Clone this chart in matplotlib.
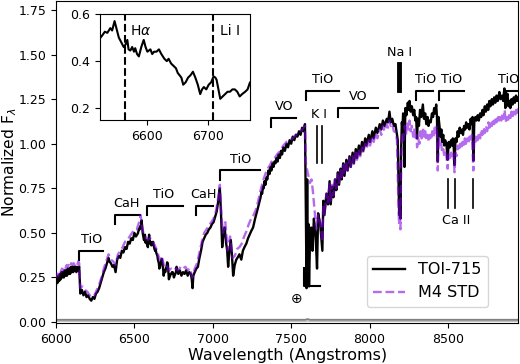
import matplotlib
matplotlib.use("Agg")
import matplotlib.pyplot as plt

# ---------------- data ----------------
toi_wave = [
    6000, 6005, 6010, 6015, 6020, 6025, 6030, 6035, 6040, 6045, 6050, 6055, 6060, 6065, 6070, 6075,
    6080, 6085, 6090, 6095, 6100, 6105, 6110, 6115, 6120, 6125, 6130, 6135, 6140, 6148,
    6155, 6165, 6175, 6185, 6195, 6205, 6215, 6225, 6235, 6245, 6255, 6265, 6275, 6285, 6295, 6305,
    6315, 6325, 6335, 6340, 6350, 6360, 6370, 6380, 6390, 6400, 6410, 6420, 6430, 6440, 6450, 6460,
    6470, 6480, 6490, 6500, 6510,
    6522, 6526, 6530, 6534, 6539, 6542, 6546, 6549, 6553, 6557, 6561, 6564, 6567, 6569, 6572, 6575,
    6578, 6580, 6583, 6586, 6590, 6594, 6597, 6600, 6605, 6608, 6611, 6615, 6619, 6623, 6628, 6632,
    6635, 6639, 6643, 6647, 6650, 6653, 6656, 6659, 6663, 6667, 6671, 6675, 6679, 6683, 6687, 6690,
    6693, 6697, 6701, 6705, 6709, 6712, 6714, 6717, 6720, 6724, 6728, 6732, 6736, 6740, 6744, 6748,
    6752, 6756, 6761, 6765, 6769,
    6780, 6790, 6800, 6810, 6820, 6830, 6840, 6850, 6860, 6866, 6871, 6876, 6885, 6895, 6905, 6915,
    6925, 6935, 6945, 6955, 6965, 6975, 6985, 6995, 7005, 7015, 7025, 7035, 7045, 7052, 7060, 7068,
    7076, 7084, 7092, 7098, 7106, 7115, 7122, 7130, 7140, 7150, 7161, 7170, 7182, 7192, 7202, 7214,
    7225, 7235, 7245, 7257, 7270, 7285, 7299,
    7305, 7310, 7315, 7320, 7325, 7330, 7336, 7342, 7348, 7355, 7362, 7368, 7374, 7380, 7387, 7393,
    7400, 7406, 7413, 7420, 7428, 7435, 7442, 7450, 7460, 7470, 7480, 7490, 7500, 7510, 7520, 7530,
    7540, 7550, 7560, 7570, 7580, 7588,
    7594, 7598, 7602, 7606, 7610, 7614, 7620, 7628, 7636, 7645, 7655, 7665, 7672, 7685, 7699,
    7705, 7712, 7725, 7735, 7745, 7752, 7762, 7770, 7780, 7788, 7798, 7805, 7815, 7822, 7832, 7840,
    7852, 7860, 7872, 7880, 7892, 7900, 7912, 7920, 7932, 7940, 7952, 7960, 7972, 7980, 7995, 8003,
    8018, 8026, 8040, 8050, 8065, 8075, 8085, 8095, 8110, 8118, 8127, 8135, 8145, 8155, 8165, 8175,
    8180,
    8185, 8189, 8193, 8197,
    8201, 8206, 8210, 8214, 8218, 8223, 8228, 8235, 8244, 8250, 8255, 8262, 8270, 8278, 8285, 8292,
    8297, 8303, 8308, 8315, 8322, 8330, 8340, 8347, 8355, 8362, 8370, 8376, 8382, 8390, 8398, 8405,
    8412, 8418, 8425, 8430, 8435, 8440, 8446, 8452, 8458, 8463, 8470, 8476, 8482, 8490, 8498, 8505,
    8512, 8520, 8526, 8531, 8537, 8542, 8548, 8555, 8562, 8568, 8575, 8582, 8590, 8596, 8603, 8610,
    8616, 8623, 8630, 8637, 8645, 8651, 8657, 8662, 8668, 8675, 8682, 8690, 8697, 8705, 8712, 8720,
    8727, 8735, 8742, 8750, 8757, 8764, 8771, 8780, 8787, 8795, 8802, 8810, 8818, 8828, 8835, 8845,
    8852, 8860, 8866, 8872, 8880, 8886, 8892, 8898, 8905, 8912, 8920, 8927, 8934, 8942, 8950]
toi_flux = [
    0.21, 0.24, 0.22, 0.26, 0.23, 0.27, 0.24, 0.28, 0.25, 0.28, 0.25, 0.29, 0.26, 0.29, 0.26, 0.30,
    0.27, 0.30, 0.27, 0.31, 0.28, 0.31, 0.28, 0.31, 0.29, 0.31, 0.28, 0.31, 0.29, 0.31,
    0.16, 0.18, 0.15, 0.17, 0.14, 0.15, 0.13, 0.12, 0.14, 0.13, 0.16, 0.17, 0.19, 0.22, 0.25, 0.28,
    0.30, 0.33, 0.36, 0.34, 0.33, 0.31, 0.32, 0.28, 0.35, 0.37, 0.36, 0.40, 0.39, 0.42, 0.41, 0.45,
    0.44, 0.47, 0.46, 0.50, 0.48,
    0.497, 0.51, 0.525, 0.52, 0.54, 0.53, 0.57, 0.54, 0.50, 0.48, 0.46, 0.47, 0.49, 0.45, 0.445, 0.46,
    0.44, 0.455, 0.43, 0.42, 0.46, 0.49, 0.46, 0.44, 0.45, 0.43, 0.44, 0.44, 0.45, 0.43, 0.41, 0.40,
    0.41, 0.39, 0.38, 0.37, 0.35, 0.34, 0.33, 0.30, 0.31, 0.33, 0.34, 0.355, 0.33, 0.30, 0.26, 0.28,
    0.29, 0.28, 0.30, 0.31, 0.335, 0.33, 0.32, 0.28, 0.24, 0.25, 0.26, 0.27, 0.27, 0.28, 0.28, 0.27,
    0.25, 0.26, 0.27, 0.28, 0.31,
    0.27, 0.29, 0.26, 0.28, 0.27, 0.29, 0.26, 0.28, 0.27, 0.24, 0.19, 0.26, 0.28, 0.30, 0.31, 0.36,
    0.40, 0.45, 0.47, 0.49, 0.50, 0.52, 0.53, 0.55, 0.56, 0.59, 0.62, 0.68, 0.75, 0.62, 0.42, 0.50,
    0.53, 0.45, 0.40, 0.31, 0.40, 0.46, 0.38, 0.26, 0.32, 0.35, 0.365, 0.38, 0.35, 0.40, 0.42, 0.44,
    0.47, 0.49, 0.51, 0.53, 0.58, 0.63, 0.68,
    0.70, 0.73, 0.72, 0.76, 0.75, 0.79, 0.77, 0.81, 0.80, 0.85, 0.83, 0.87, 0.85, 0.89, 0.87, 0.90,
    0.89, 0.92, 0.90, 0.94, 0.92, 0.96, 0.94, 0.98, 0.96, 1.00, 0.98, 1.02, 1.00, 1.04, 1.02, 1.05,
    1.04, 1.07, 1.05, 1.09, 1.07, 1.11,
    0.60, 0.19, 0.80, 0.25, 0.55, 0.20, 0.46, 0.53, 0.40, 0.58, 0.50, 0.30, 0.61, 0.55, 0.40,
    0.68, 0.60, 0.72, 0.66, 0.79, 0.66, 0.76, 0.70, 0.80, 0.74, 0.84, 0.77, 0.86, 0.80, 0.89, 0.82,
    0.91, 0.85, 0.93, 0.87, 0.95, 0.89, 0.97, 0.92, 0.99, 0.94, 1.01, 0.96, 1.03, 0.99, 1.05, 1.01,
    1.07, 1.03, 1.09, 1.06, 1.11, 1.08, 1.13, 1.10, 1.14, 1.12, 1.18, 1.12, 1.14, 1.10, 1.11, 1.05,
    1.02,
    0.80, 0.60, 0.75, 0.58,
    0.95, 1.12, 1.08, 1.17, 1.14, 0.87, 1.20, 1.16, 1.23, 1.19, 1.24, 1.18, 1.21, 1.16, 1.19, 1.13,
    1.15, 1.03, 1.14, 1.10, 1.19, 1.15, 1.22, 1.14, 1.17, 1.11, 1.15, 1.10, 1.13, 1.12, 1.17, 1.15,
    1.20, 1.17, 1.22, 1.15, 0.90, 1.15, 1.10, 1.04, 1.08, 1.01, 1.05, 0.99, 1.02, 1.00, 0.91, 1.01,
    0.98, 1.02, 0.99, 1.03, 0.98, 0.88, 1.03, 1.01, 1.07, 1.04, 1.09, 1.06, 1.08, 1.05, 1.10, 1.08,
    1.12, 1.09, 1.11, 1.08, 1.14, 1.11, 1.15, 0.905, 1.12, 1.15, 1.13, 1.16, 1.13, 1.17, 1.15, 1.19,
    1.16, 1.21, 1.18, 1.22, 1.19, 1.24, 1.21, 1.25, 1.22, 1.26, 1.23, 1.27, 1.24, 1.29, 1.25, 1.27,
    1.24, 1.31, 1.20, 1.26, 1.28, 1.21, 1.24, 1.20, 1.25, 1.22, 1.26, 1.23, 1.27, 1.24, 1.26]

std_wave = [
    6000, 6008, 6015, 6022, 6030, 6038, 6045, 6052, 6060, 6068, 6075, 6082, 6090, 6098, 6105, 6112,
    6120, 6128, 6135, 6142, 6148,
    6155, 6170, 6185, 6200, 6215, 6230, 6245, 6260, 6275, 6290, 6305, 6320, 6335, 6350, 6365, 6380,
    6395, 6410, 6425, 6440, 6455, 6470, 6485, 6500, 6515, 6530, 6540, 6550, 6560, 6570, 6585, 6600,
    6615, 6630, 6645, 6660, 6675, 6690, 6705, 6720, 6735, 6750, 6765, 6780, 6795, 6810, 6825, 6840,
    6855, 6870, 6885, 6900, 6915, 6930, 6945, 6960, 6975, 6990, 7005, 7020, 7035, 7045, 7055, 7065,
    7080, 7095, 7110, 7125, 7140, 7155, 7170, 7185, 7200, 7215, 7230, 7245, 7260, 7275, 7290, 7305,
    7320, 7335, 7350, 7365, 7380, 7395, 7410, 7430, 7450, 7470, 7490, 7510, 7530, 7550, 7570, 7588,
    7593, 7600, 7610, 7620, 7630, 7640, 7650, 7660, 7672, 7685, 7699,
    7705, 7712, 7725, 7735, 7745, 7752, 7762, 7770, 7780, 7788, 7798, 7805, 7815, 7822, 7832, 7840,
    7852, 7860, 7872, 7880, 7892, 7900, 7912, 7920, 7932, 7940, 7952, 7960, 7972, 7980, 7995, 8003,
    8018, 8026, 8040, 8050, 8065, 8075, 8085, 8095, 8110, 8118, 8127, 8135, 8145, 8155, 8165, 8175,
    8183, 8188, 8193, 8197,
    8202, 8208, 8215, 8225, 8232, 8240, 8248, 8255, 8262, 8270, 8278, 8285, 8292, 8300, 8303, 8310,
    8318, 8325, 8332, 8340, 8348, 8355, 8362, 8370, 8378, 8385, 8392, 8400, 8408, 8415, 8422, 8428,
    8435, 8442, 8450, 8457, 8463, 8470, 8477, 8485, 8492, 8498, 8505, 8512, 8520, 8527, 8535, 8542,
    8548, 8555, 8563, 8570, 8578, 8585, 8593, 8600, 8608, 8615, 8623, 8630, 8638, 8645, 8653, 8662,
    8668, 8675, 8683, 8690, 8698, 8705, 8713, 8720, 8728, 8735, 8743, 8750, 8758, 8765, 8773, 8780,
    8788, 8795, 8803, 8810, 8818, 8825, 8833, 8840, 8848, 8855, 8862, 8868, 8875, 8882, 8890, 8897,
    8905, 8912, 8920, 8927, 8935, 8942, 8950]
std_flux = [
    0.25, 0.27, 0.26, 0.29, 0.28, 0.30, 0.29, 0.31, 0.30, 0.32, 0.31, 0.32, 0.31, 0.33, 0.32, 0.33,
    0.32, 0.33, 0.32, 0.34, 0.33,
    0.19, 0.20, 0.18, 0.17, 0.15, 0.14, 0.15, 0.18, 0.21, 0.25, 0.30, 0.34, 0.38, 0.35, 0.34, 0.32,
    0.38, 0.40, 0.42, 0.45, 0.46, 0.48, 0.50, 0.52, 0.52, 0.56, 0.60, 0.53, 0.49, 0.48, 0.46, 0.47,
    0.46, 0.43, 0.40, 0.35, 0.37, 0.31, 0.32, 0.29, 0.30, 0.29, 0.30, 0.29, 0.31, 0.30, 0.31, 0.29,
    0.30, 0.25, 0.30, 0.33, 0.39, 0.45, 0.50, 0.52, 0.54, 0.56, 0.58, 0.62, 0.70, 0.77, 0.60, 0.50,
    0.56, 0.40, 0.48, 0.36, 0.37, 0.41, 0.42, 0.44, 0.48, 0.51, 0.55, 0.58, 0.60, 0.63, 0.68, 0.74,
    0.79, 0.83, 0.86, 0.88, 0.91, 0.92, 0.94, 0.96, 0.99, 1.01, 1.02, 1.03, 1.05, 1.06, 1.08, 1.10,
    0.90, 0.86, 0.82, 0.78, 0.80, 0.72, 0.62, 0.52, 0.60, 0.56, 0.45,
    0.66, 0.60, 0.72, 0.67, 0.78, 0.68, 0.77, 0.71, 0.80, 0.75, 0.83, 0.78, 0.85, 0.80, 0.88, 0.83,
    0.90, 0.85, 0.92, 0.87, 0.93, 0.89, 0.95, 0.91, 0.97, 0.93, 0.98, 0.95, 1.00, 0.97, 1.02, 0.99,
    1.04, 1.01, 1.06, 1.03, 1.08, 1.05, 1.10, 1.07, 1.11, 1.09, 1.13, 1.10, 1.11, 1.07, 1.07, 1.02,
    0.70, 0.55, 0.68, 0.52,
    0.90, 1.05, 1.02, 1.10, 1.05, 1.12, 1.08, 1.13, 1.07, 1.10, 1.04, 1.08, 1.02, 1.05, 0.98, 1.03,
    1.00, 1.07, 1.03, 1.09, 1.04, 1.07, 1.02, 1.05, 1.01, 1.05, 1.02, 1.07, 1.04, 1.09, 1.06, 1.10,
    0.85, 1.04, 0.98, 1.00, 0.95, 0.97, 0.93, 0.95, 0.92, 0.86, 0.94, 0.91, 0.95, 0.92, 0.94, 0.84,
    0.95, 0.93, 0.99, 0.96, 1.00, 0.97, 1.01, 0.98, 1.03, 1.00, 1.03, 1.00, 1.04, 1.01, 1.05, 0.85,
    1.03, 1.01, 1.05, 1.02, 1.06, 1.03, 1.08, 1.05, 1.09, 1.06, 1.10, 1.07, 1.12, 1.09, 1.12, 1.10,
    1.14, 1.11, 1.15, 1.12, 1.16, 1.13, 1.16, 1.13, 1.17, 1.14, 1.19, 1.12, 1.15, 1.12, 1.16, 1.13,
    1.18, 1.15, 1.18, 1.15, 1.19, 1.16, 1.20]

err_wave = [6000, 7590, 7605, 7620, 8950]
err_toi = [0.012, 0.012, 0.016, 0.012, 0.012]
err_std = [0.004, 0.004, 0.006, 0.004, 0.004]

# molecular bands: label, start, end, bracket height, label x
band_labels = ["TiO", "CaH", "TiO", "CaH", "TiO", "VO", "TiO", "VO", "TiO", "TiO", "TiO"]
band_start = [6147, 6376, 6578, 6896, 7049, 7374, 7597, 7801, 8297, 8440, 8870]
band_end = [6302, 6535, 6807, 7002, 7304, 7533, 7803, 8053, 8403, 8601, 8990]
band_y = [0.40, 0.60, 0.65, 0.65, 0.85, 1.147, 1.296, 1.20, 1.296, 1.296, 1.296]
band_text_x = [6225, 6452, 6685, 6940, 7176, 7453, 7700, 7927, 8355, 8522, 8885]

ki_lines = [7665, 7699]
caii_lines = [8498, 8542, 8662]
nai_line = 8191
halpha = 6563
lii = 6708

xticks = [6000, 6500, 7000, 7500, 8000, 8500]
yticks = [0.00, 0.25, 0.50, 0.75, 1.00, 1.25, 1.50, 1.75]
inset_xticks = [6600, 6700]
inset_yticks = [0.2, 0.4, 0.6]

assert len(toi_wave) == len(toi_flux), (len(toi_wave), len(toi_flux))
assert len(std_wave) == len(std_flux), (len(std_wave), len(std_flux))

# ---------------- plot ----------------
fig = plt.figure(figsize=(5.2, 3.64), dpi=100)
ax = fig.add_axes([0.1077, 0.1113, 0.8894, 0.8857])

std_color = "#8000e0"
ax.plot(err_wave, err_toi, color="gray", lw=1.5, zorder=1)
ax.plot(err_wave, err_std, color="silver", lw=1.0, zorder=1)
ax.plot(toi_wave, toi_flux, color="black", lw=1.7, label="TOI-715", zorder=2)
ax.plot(std_wave, std_flux, color=std_color, lw=1.7, ls="--", alpha=0.58,
        label="M4 STD", zorder=3)

ax.set_xlim(6000, 8950)
ax.set_ylim(-0.008, 1.80)
ax.set_xticks(xticks)
ax.set_yticks(yticks)
ax.set_yticklabels([f"{v:.2f}" for v in yticks])
ax.tick_params(labelsize=9)
ax.set_xlabel("Wavelength (Angstroms)", fontsize=11.5, labelpad=1)
ax.set_ylabel(r"Normalized F$_\lambda$", fontsize=11.2)
ax.yaxis.set_label_coords(-0.079, 0.5)

tick_down = 0.052
for lab, x0, x1, y, tx in zip(band_labels, band_start, band_end, band_y, band_text_x):
    ax.plot([x0, x0, x1], [y - tick_down, y, y], color="black", lw=1.5, clip_on=True)
    ax.text(tx, y + 0.027, lab, ha="center", va="bottom", fontsize=9.2)

for x in ki_lines:
    ax.plot([x, x], [0.89, 1.10], color="black", lw=1.2)
ax.text(7678, 1.13, "K I", ha="center", va="bottom", fontsize=9.2)

ax.plot([nai_line, nai_line], [1.30, 1.45], color="black", lw=3.5)
ax.text(8194, 1.475, "Na I", ha="center", va="bottom", fontsize=9.2)

for x in caii_lines:
    ax.plot([x, x], [0.64, 0.80], color="black", lw=1.2)
ax.text(8553, 0.57, "Ca II", ha="center", va="center", fontsize=9.2)

ax.plot([7582, 7582, 7682], [0.305, 0.201, 0.201], color="black", lw=1.5)
ax.text(7537, 0.13, "\u2295", ha="center", va="center", fontsize=10)

ax.legend(loc="lower right", bbox_to_anchor=(0.934, 0.052), borderaxespad=0,
          fontsize=11.5, handlelength=2.0, framealpha=0.8)

# inset
axi = fig.add_axes([0.1923, 0.6703, 0.2885, 0.2912])
axi.plot(toi_wave, toi_flux, color="black", lw=1.5)
axi.axvline(halpha, color="black", ls="--", lw=1.5)
axi.axvline(lii, color="black", ls="--", lw=1.5)
axi.set_xlim(6522, 6769)
axi.set_ylim(0.15, 0.6)
axi.set_xticks(inset_xticks)
axi.set_yticks(inset_yticks)
axi.tick_params(labelsize=9)
axi.text(6571, 0.53, r"H$\alpha$", ha="left", va="center", fontsize=10)
axi.text(6719, 0.53, "Li I", ha="left", va="center", fontsize=10)

fig.savefig("out.png", dpi=100)
